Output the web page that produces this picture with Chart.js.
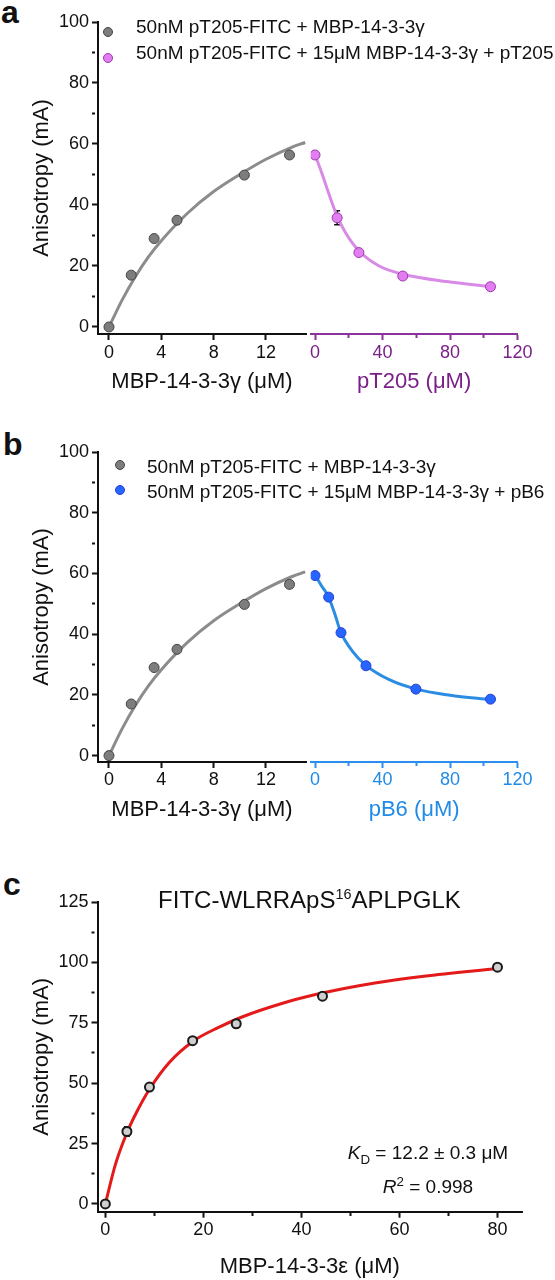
<!DOCTYPE html>
<html>
<head>
<meta charset="utf-8">
<script src="https://cdn.jsdelivr.net/npm/chart.js@4.4.1/dist/chart.umd.min.js"></script>
<style>
  html, body { margin: 0; padding: 0; background: #fff; }
  body { width: 555px; height: 1280px; position: relative; overflow: hidden; font-family: "Liberation Sans", Arial, sans-serif; color: #111; }
  canvas { position: absolute; left: 0; }
  .letter { position: absolute; font-size: 32px; font-weight: bold; line-height: 32px; }
  .title { position: absolute; left: 97px; width: 425px; text-align: center; font-size: 24px; line-height: 28px; white-space: nowrap; }
  .title sup { font-size: 0.6em; line-height: 0; vertical-align: 0.6em; }
  .note { position: absolute; left: 338px; width: 180px; text-align: center; font-size: 19px; line-height: 34px; white-space: nowrap; }
  .note sub, .note sup { font-size: 0.7em; line-height: 0; }
  .note sub { vertical-align: -0.35em; }
  .note sup { vertical-align: 0.55em; }
</style>
</head>
<body>

<div class="letter" style="left:1px;top:-4px">a</div>
<canvas id="chartA" width="555" height="400" style="top:0"></canvas>

<div class="letter" style="left:3px;top:428px">b</div>
<canvas id="chartB" width="555" height="400" style="top:430px"></canvas>

<div class="letter" style="left:3px;top:868px">c</div>
<canvas id="chartC" width="555" height="430" style="top:850px"></canvas>
<div class="title" style="top:886px">FITC-WLRRApS<sup>16</sup>APLPGLK</div>
<div class="note" style="top:1136px"><i>K</i><sub>D</sub> = 12.2 ± 0.3 μM<br><i>R</i><sup>2</sup> = 0.998</div>

<script>
// ---- data ----

// 50nM pT205-FITC titrated with MBP-14-3-3γ (same in a and b)
const mbpConc  = [0, 1.7, 3.45, 5.2, 10.35, 13.8];
const mbpAniso = [0, 17, 29, 35, 49.8, 56.4];
const mbpFitX  = [0, 1, 2, 3, 4, 6, 8, 10, 12, 14, 15];
const mbpFitY  = [0, 8.8, 16.4, 22.9, 28.3, 37.3, 44.4, 50, 55, 59, 60.5];

// competition with pT205 peptide (a)
const pT205Conc  = [0, 13.1, 26, 52, 104];
const pT205Aniso = [56.4, 35.8, 24.4, 16.7, 13.2];
const pT205Err   = [0, 2.3, 0, 0, 0];
const pT205FitX  = [0, 4, 8, 13, 18, 26, 38, 52, 78, 104];
const pT205FitY  = [56.5, 50.5, 44, 36.5, 31, 25, 20, 17.3, 14.9, 13.3];

// competition with pB6 peptide (b)
const pB6Conc  = [0, 8.1, 15.4, 30.2, 59.8, 104];
const pB6Aniso = [59.3, 52.2, 40.5, 29.6, 21.9, 18.6];
const pB6FitX  = [0, 4, 8, 12, 15, 22, 30, 44, 60, 80, 104];
const pB6FitY  = [59.5, 55.8, 52.3, 46.2, 41, 34.5, 29.8, 25, 21.9, 19.9, 18.4];

// FITC-WLRRApS16APLPGLK with MBP-14-3-3ε (c)
const epsConc  = [0, 4.4, 9, 17.8, 26.7, 44.3, 80];
const epsAniso = [0, 30, 48.4, 67.6, 74.6, 86, 98];
const epsErr   = [0, 2, 0, 0, 0, 0, 0];
const epsFitX  = [0, 2, 4.4, 6.5, 9, 13, 18, 23, 28, 36, 44, 55, 65, 80];
const epsFitY  = [0, 16, 29.5, 38.5, 47.5, 58.5, 67.5, 73, 77.5, 83, 87.2, 91.5, 94.3, 97.5];

// labelled ticks
const yTicksAB    = [0, 20, 40, 60, 80, 100];
const xTicksMbp   = [0, 4, 8, 12];
const xTicksPep   = [0, 40, 80, 120];
const yTicksC     = [0, 25, 50, 75, 100, 125];
const xTicksC     = [0, 20, 40, 60, 80];

// ---- styling ----
const FONT = '"Liberation Sans", Arial, sans-serif';
Chart.defaults.font.family = FONT;
Chart.defaults.color = '#111';

const INK = '#111';
const GRAY_FILL = '#7d7d7d', GRAY_EDGE = '#454545', GRAY_LINE = '#8c8c8c';
const PURPLE_FILL = '#e27ef2', PURPLE_EDGE = '#9a3aa8', PURPLE_LINE = '#d98ae7', PURPLE_AXIS = '#8c339b', PURPLE_TEXT = '#7a2088';
const BLUE_FILL = '#2466ff', BLUE_EDGE = '#2a3fd0', BLUE_LINE = '#2b8de2', BLUE_AXIS = '#2b8ff0', BLUE_TEXT = '#1f8ae8';
const RED_LINE = '#e41a1a';

const TICK_FONT = {size: 18};
const TITLE_FONT = {size: 22};

function pts(xs, ys) {
    return xs.map((x, i) => ({x: x, y: ys[i]}));
}

function onlyMajors(majors) {
    return v => majors.includes(v) ? String(v) : '';
}

// black error bars, drawn behind the markers
const errorBars = {
    id: 'errorBars',
    beforeDatasetsDraw(chart) {
        const ctx = chart.ctx;
        chart.data.datasets.forEach(ds => {
            if (!ds.errorBars) return;
            const xs = chart.scales[ds.xAxisID || 'x'];
            const ys = chart.scales.y;
            ds.data.forEach((p, j) => {
                const e = ds.errorBars[j];
                if (!e) return;
                const x = xs.getPixelForValue(p.x);
                const y1 = ys.getPixelForValue(p.y + e);
                const y2 = ys.getPixelForValue(p.y - e);
                ctx.save();
                ctx.strokeStyle = INK;
                ctx.lineWidth = 1.5;
                ctx.beginPath();
                ctx.moveTo(x, y1); ctx.lineTo(x, y2);
                ctx.moveTo(x - 3, y1); ctx.lineTo(x + 3, y1);
                ctx.moveTo(x - 3, y2); ctx.lineTo(x + 3, y2);
                ctx.stroke();
                ctx.restore();
            });
        });
    }
};

// small key in the upper left of the plot, built from the labelled datasets
const keyBox = {
    id: 'keyBox',
    afterDraw(chart, args, opts) {
        if (!opts.dx) return;
        const ctx = chart.ctx;
        const area = chart.chartArea;
        const items = chart.data.datasets.filter(ds => ds.label);
        ctx.save();
        ctx.font = '19px ' + FONT;
        ctx.textBaseline = 'middle';
        items.forEach((ds, i) => {
            const y = area.top + opts.dy + i * opts.step;
            ctx.beginPath();
            ctx.arc(area.left + opts.dx, y, 4.5, 0, Math.PI * 2);
            ctx.fillStyle = ds.backgroundColor;
            ctx.fill();
            ctx.lineWidth = 1;
            ctx.strokeStyle = ds.borderColor;
            ctx.stroke();
            ctx.fillStyle = INK;
            ctx.fillText(ds.label, area.left + opts.textDx, y - opts.lift);
        });
        ctx.restore();
    }
};

function xAxis(o) {
    return {
        type: 'linear',
        position: 'bottom',
        stack: o.stack,
        stackWeight: o.weight,
        min: o.min,
        max: o.max,
        afterFit: s => { s.height = o.height; },
        ticks: {
            stepSize: o.step,
            includeBounds: false,
            maxRotation: 0,
            autoSkip: false,
            padding: o.tickPad,
            font: TICK_FONT,
            color: o.text,
            callback: onlyMajors(o.majors)
        },
        grid: {
            drawOnChartArea: false,
            tickLength: 6,
            tickWidth: 2,
            tickColor: o.axis,
            tickBorderDash: c => o.majors.includes(c.tick && c.tick.value) ? [] : [3, 20]
        },
        border: {color: o.axis, width: 2},
        title: {display: true, text: o.title, font: TITLE_FONT, color: o.text, padding: {top: 0, bottom: o.titlePad}}
    };
}

function yAxis(o) {
    return {
        type: 'linear',
        min: o.min,
        max: o.max,
        afterFit: s => { s.width = o.width; },
        ticks: {
            stepSize: o.step,
            includeBounds: false,
            autoSkip: false,
            padding: 3,
            font: TICK_FONT,
            color: INK,
            callback: onlyMajors(o.majors)
        },
        grid: {
            drawOnChartArea: false,
            tickLength: 6,
            tickWidth: 2,
            tickColor: INK,
            tickBorderDash: c => o.majors.includes(c.tick && c.tick.value) ? [] : [3, 20]
        },
        border: {color: INK, width: 2},
        title: {display: true, text: 'Anisotropy (mA)', font: TITLE_FONT, color: INK, padding: {top: 29, bottom: 0}}
    };
}

function pointSet(label, xs, ys, fill, edge, axisId, errs) {
    return {
        label: label,
        data: pts(xs, ys),
        xAxisID: axisId,
        backgroundColor: fill,
        borderColor: edge,
        pointRadius: 5,
        pointBorderWidth: 1,
        errorBars: errs,
        order: 1
    };
}

function fitSet(xs, ys, color, axisId) {
    return {
        data: pts(xs, ys),
        xAxisID: axisId,
        showLine: true,
        pointRadius: 0,
        borderColor: color,
        backgroundColor: color,
        borderWidth: 3,
        cubicInterpolationMode: 'monotone',
        order: 2
    };
}

// panels a and b: direct titration on the left, competition on the right
function competitionPanel(id, pep) {
    new Chart(document.getElementById(id), {
        type: 'scatter',
        data: {
            datasets: [
                pointSet('50nM pT205-FITC + MBP-14-3-3γ', mbpConc, mbpAniso, GRAY_FILL, GRAY_EDGE, 'x'),
                fitSet(mbpFitX, mbpFitY, GRAY_LINE, 'x'),
                pointSet(pep.label, pep.conc, pep.aniso, pep.fill, pep.edge, 'x2', pep.err),
                fitSet(pep.fitX, pep.fitY, pep.line, 'x2')
            ]
        },
        options: {
            responsive: false,
            animation: false,
            events: [],
            layout: {padding: {top: 22, right: 37.5, bottom: 0, left: 0}},
            plugins: {
                legend: {display: false},
                tooltip: {enabled: false},
                keyBox: pep.key
            },
            scales: {
                x: xAxis({stack: 'bot', weight: 208, min: -0.84, max: 15.06, step: 4, majors: xTicksMbp,
                          height: pep.xHeight, tickPad: pep.tickPad, titlePad: pep.titlePad,
                          axis: INK, text: INK, title: 'MBP-14-3-3γ (μM)'}),
                gap: {
                    type: 'linear', position: 'bottom', stack: 'bot', stackWeight: 4.8, min: 0, max: 1,
                    afterFit: s => { s.height = pep.xHeight; },
                    ticks: {display: false}, grid: {display: false}, border: {display: false}
                },
                x2: xAxis({stack: 'bot', weight: 206.7, min: -2.5, max: 120, step: 20, majors: xTicksPep,
                           height: pep.xHeight, tickPad: pep.tickPad, titlePad: pep.titlePad,
                           axis: pep.axis, text: pep.text, title: pep.title}),
                y: yAxis({min: pep.yMin, max: 100, step: 10, majors: yTicksAB, width: 98})
            }
        },
        plugins: [errorBars, keyBox]
    });
}

competitionPanel('chartA', {
    label: '50nM pT205-FITC + 15μM MBP-14-3-3γ + pT205',
    conc: pT205Conc, aniso: pT205Aniso, err: pT205Err,
    fitX: pT205FitX, fitY: pT205FitY,
    fill: PURPLE_FILL, edge: PURPLE_EDGE, line: PURPLE_LINE, axis: PURPLE_AXIS, text: PURPLE_TEXT,
    title: 'pT205 (μM)',
    yMin: -2.3, xHeight: 66, tickPad: 2, titlePad: 5,
    key: {dx: 10, dy: 10, step: 26, textDx: 38, lift: 4}
});

competitionPanel('chartB', {
    label: '50nM pT205-FITC + 15μM MBP-14-3-3γ + pB6',
    conc: pB6Conc, aniso: pB6Aniso, err: null,
    fitX: pB6FitX, fitY: pB6FitY,
    fill: BLUE_FILL, edge: BLUE_EDGE, line: BLUE_LINE, axis: BLUE_AXIS, text: BLUE_TEXT,
    title: 'pB6 (μM)',
    yMin: -2.1, xHeight: 68, tickPad: 1, titlePad: 7,
    key: {dx: 22, dy: 13, step: 25, textDx: 49, lift: -3}
});

// panel c: single titration with fit
new Chart(document.getElementById('chartC'), {
    type: 'scatter',
    data: {
        datasets: [
            {
                data: pts(epsConc, epsAniso),
                backgroundColor: '#cfcfcf',
                borderColor: '#1a1a1a',
                pointRadius: 4.5,
                pointBorderWidth: 2,
                errorBars: epsErr,
                order: 1
            },
            fitSet(epsFitX, epsFitY, RED_LINE, 'x')
        ]
    },
    options: {
        responsive: false,
        animation: false,
        events: [],
        layout: {padding: {top: 52, right: 33, bottom: 0, left: 0}},
        plugins: {
            legend: {display: false},
            tooltip: {enabled: false}
        },
        scales: {
            x: xAxis({min: -1.6, max: 85, step: 10, majors: xTicksC, height: 68.3, tickPad: 1.5, titlePad: 0,
                      axis: INK, text: INK, title: 'MBP-14-3-3ε (μM)'}),
            y: yAxis({min: -3.2, max: 125, step: 12.5, majors: yTicksC, width: 97.5})
        }
    },
    plugins: [errorBars]
});
</script>
</body>
</html>
